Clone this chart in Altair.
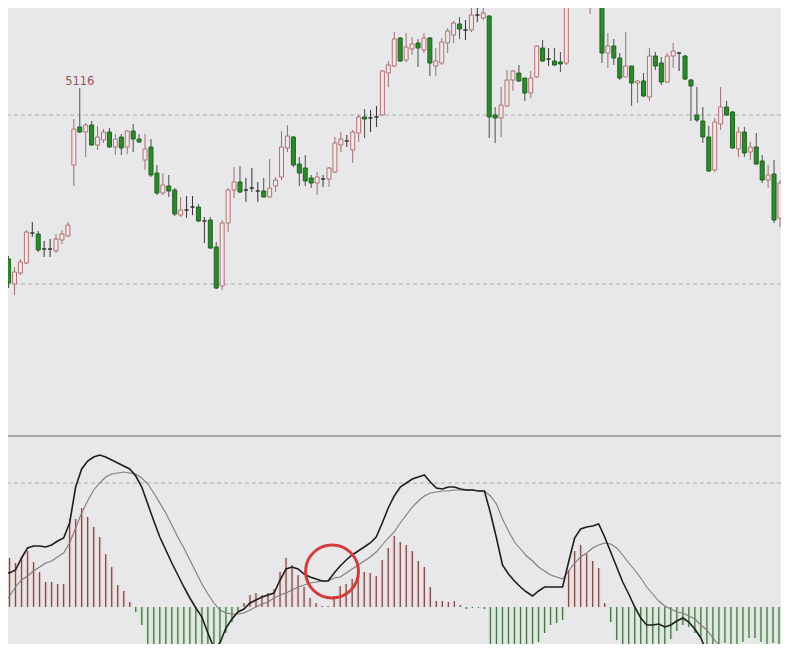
import altair as alt
import pandas as pd

# ---- price candles (one per session) ----
opens = [4945, 4920, 4931, 4941, 4971, 4970, 4955, 4955, 4953, 4964,
         4968, 5039, 5077, 5072, 5079, 5059, 5064, 5072, 5057, 5067,
         5057, 5073, 5065, 5044, 5057, 5031, 5011, 5018, 5014, 4989,
         4994, 4997, 4997, 4983, 4984, 4957, 4918, 4981, 5014, 5022,
         5014, 5016, 5013, 5013, 5007, 5018, 5027, 5056, 5067, 5040,
         5036, 5026, 5021, 5025, 5025, 5032, 5059, 5063, 5054, 5071,
         5087, 5086, 5087, 5089, 5131, 5138, 5166, 5144, 5155, 5161,
         5154, 5166, 5138, 5141, 5161, 5169, 5180, 5174, 5174, 5189,
         5186, 5188, 5089, 5086, 5098, 5124, 5131, 5126, 5111, 5127,
         5156, 5145, 5143, 5142, 5141, 5224, 5239, 5209, 5201, 5206,
         5206, 5151, 5158, 5146, 5127, 5138, 5121, 5123, 5107, 5148,
         5141, 5122, 5148, 5151, 5148, 5124, 5089, 5083, 5067, 5034,
         5080, 5097, 5092, 5055, 5072, 5052, 5057, 5043, 5024, 5030,
         4986]
closes = [4921, 4932, 4942, 4972, 4971, 4954, 4955, 4955, 4965, 4970,
          4979, 5075, 5072, 5079, 5059, 5067, 5072, 5057, 5065, 5056,
          5073, 5065, 5062, 5055, 5029, 5011, 5019, 5013, 4990, 4994,
          4994, 4997, 4983, 4983, 4956, 4916, 4981, 5014, 5022, 5012,
          5014, 5016, 5013, 5007, 5016, 5024, 5057, 5068, 5039, 5031,
          5023, 5021, 5027, 5025, 5036, 5061, 5065, 5063, 5072, 5087,
          5085, 5086, 5087, 5133, 5139, 5165, 5143, 5157, 5160, 5156,
          5166, 5141, 5143, 5162, 5173, 5181, 5175, 5174, 5189, 5189,
          5191, 5087, 5086, 5099, 5124, 5133, 5123, 5111, 5126, 5158,
          5143, 5145, 5139, 5140, 5224, 5239, 5229, 5207, 5206, 5203,
          5151, 5158, 5146, 5126, 5138, 5121, 5123, 5108, 5148, 5138,
          5122, 5148, 5153, 5151, 5125, 5118, 5084, 5067, 5033, 5082,
          5097, 5089, 5056, 5072, 5051, 5057, 5040, 5024, 5029, 4984,
          5021]
highs = [4948, 4937, 4945, 4974, 4982, 4973, 4963, 4965, 4970, 4974,
         4982, 5085, 5116, 5081, 5083, 5078, 5075, 5076, 5070, 5070,
         5074, 5080, 5070, 5070, 5065, 5039, 5031, 5029, 5016, 5007,
         5008, 5008, 5000, 4987, 4987, 4962, 4984, 5016, 5037, 5038,
         5026, 5036, 5022, 5026, 5045, 5027, 5073, 5079, 5068, 5047,
         5049, 5029, 5032, 5029, 5037, 5067, 5072, 5069, 5074, 5089,
         5095, 5094, 5098, 5134, 5143, 5172, 5167, 5171, 5167, 5165,
         5171, 5167, 5156, 5166, 5176, 5183, 5187, 5184, 5199, 5199,
         5200, 5189, 5097, 5117, 5134, 5134, 5139, 5126, 5133, 5159,
         5164, 5156, 5156, 5152, 5232, 5249, 5249, 5219, 5216, 5212,
         5212, 5171, 5165, 5151, 5172, 5138, 5124, 5131, 5156, 5152,
         5147, 5151, 5161, 5152, 5149, 5125, 5117, 5097, 5078, 5086,
         5117, 5103, 5093, 5077, 5077, 5062, 5071, 5049, 5039, 5044,
         5024]
lows = [4916, 4909, 4929, 4940, 4967, 4952, 4947, 4947, 4951, 4960,
        4967, 5018, 5071, 5047, 5058, 5054, 5061, 5056, 5049, 5049,
        5050, 5052, 5061, 5034, 5027, 5009, 5009, 5007, 4988, 4987,
        4986, 4989, 4982, 4961, 4955, 4915, 4914, 4972, 5006, 5011,
        5002, 5012, 5002, 5007, 5006, 5012, 5024, 5052, 5037, 5018,
        5018, 5016, 5009, 5017, 5017, 5031, 5052, 5057, 5041, 5062,
        5066, 5072, 5077, 5088, 5117, 5137, 5142, 5142, 5149, 5137,
        5151, 5128, 5128, 5139, 5151, 5161, 5165, 5164, 5172, 5182,
        5184, 5066, 5061, 5067, 5097, 5113, 5122, 5103, 5106, 5126,
        5142, 5138, 5138, 5132, 5139, 5214, 5216, 5197, 5190, 5200,
        5141, 5136, 5139, 5124, 5127, 5098, 5101, 5107, 5103, 5134,
        5119, 5121, 5136, 5133, 5124, 5083, 5082, 5061, 5032, 5032,
        5074, 5088, 5055, 5047, 5047, 5044, 5039, 5021, 5016, 4981,
        4977]

# ---- MACD indicator ----
dif = [35, 34, 37, 49, 59, 61, 61, 60, 62, 66,
       69, 84, 120, 138, 146, 150, 152, 150, 147, 144,
       141, 138, 131, 120, 103, 86, 70, 57, 44, 32,
       20, 9, -1, -10, -26, -41, -36, -21, -12, -5,
       -2, 4, 7, 10, 12, 14, 27, 38, 40, 38,
       33, 30, 28, 26, 26, 34, 41, 47, 52, 56,
       60, 64, 70, 84, 99, 111, 120, 124, 128, 130,
       132, 125, 119, 118, 120, 120, 118, 117, 117, 116,
       116, 94, 69, 42, 33, 26, 20, 15, 11, 16,
       20, 20, 20, 20, 45, 69, 78, 80, 81, 83,
       70, 55, 40, 25, 13, 0, -11, -18, -18, -17,
       -20, -18, -14, -11, -15, -22, -31, -45, -55, -60,
       -63, -66, -68, -70, -72, -73, -75, -77, -78, -80,
       -82]
dea = [4, 11, 20, 27, 31, 36, 40, 44, 46, 50,
       54, 64, 79, 94, 106, 117, 124, 130, 133, 134,
       135, 134, 133, 129, 123, 114, 104, 94, 82, 70,
       59, 47, 35, 23, 13, 4, -3, -6, -7, -7,
       -6, -3, 0, 3, 5, 9, 12, 14, 17, 20,
       22, 24, 25, 26, 26, 29, 30, 34, 38, 42,
       46, 50, 55, 62, 69, 75, 84, 92, 100, 106,
       111, 114, 115, 116, 116, 117, 117, 117, 117, 116,
       116, 111, 103, 88, 76, 65, 58, 51, 46, 40,
       36, 32, 30, 28, 36, 44, 50, 54, 59, 62,
       64, 63, 59, 52, 44, 37, 29, 20, 13, 6,
       1, -2, -5, -6, -9, -12, -18, -23, -31, -38,
       -46, -50, -54, -58, -61, -64, -67, -70, -72, -74,
       -76]
macd_hist = [60, 49, 44, 50, 56, 45, 35, 25, 25, 23,
             23, 88, 88, 99, 90, 80, 70, 53, 40, 22,
             16, 5, -5, -18, -38, -50, -58, -64, -68, -70,
             -72, -72, -70, -64, -56, -48, -36, -26, -15, -5,
             4, 12, 14, 12, 14, 18, 35, 49, 42, 32,
             20, 9, 4, 1, 1, 11, 21, 23, 28, 30,
             35, 34, 31, 47, 59, 71, 65, 62, 56, 46,
             40, 20, 6, 6, 5, 6, 2, -2, -1, -1,
             -2, -48, -68, -90, -88, -76, -70, -62, -55, -35,
             -26, -18, -16, -13, 37, 56, 62, 53, 46, 39,
             4, -15, -33, -54, -62, -72, -78, -74, -62, -48,
             -42, -32, -24, -18, -20, -26, -30, -44, -48, -40,
             -36, -42, -40, -35, -31, -31, -35, -38, -36, -40,
             -45]

grid_prices = [5089, 4920]
grid_macd = [124]
separator_level = [171]
peak_label = "5116"
peak_index = 12
peak_price = 5119
circle_index = [54.65]
circle_value = [35.5]

n = len(opens)
idx = list(range(n))
dirs = ["up" if c > o else ("down" if c < o else "doji") for o, c in zip(opens, closes)]
candles = pd.DataFrame({"i": idx, "open": opens, "high": highs, "low": lows,
                        "close": closes, "dir": dirs})
signs = ["pos" if h >= 0 else "neg" for h in macd_hist]
macd = pd.DataFrame({"i": idx, "dif": dif, "dea": dea, "hist": macd_hist,
                     "zero": [0] * n, "sign": signs})

W = 773
H_TOP = 427
H_BOT = 209

xscale = alt.Scale(domain=[0.7486, 129.33], nice=False, zero=False)
X = alt.X("i:Q", scale=xscale, axis=None)
pscale = alt.Scale(domain=[4769, 5196], nice=False, zero=False)
mscale = alt.Scale(domain=[-37, 172], nice=False, zero=False)

dir_dom = ["up", "down", "doji"]

cbase = alt.Chart(candles)

grid_top = alt.Chart(pd.DataFrame({"p": grid_prices})).mark_rule(
    strokeDash=[4, 3], color="#acacac", strokeWidth=1, clip=True
).encode(y=alt.Y("p:Q", scale=pscale, axis=None))

wicks = cbase.mark_rule(strokeWidth=1, clip=True).encode(
    x=X,
    y=alt.Y("low:Q", scale=pscale, axis=None),
    y2="high:Q",
    color=alt.Color("dir:N", scale=alt.Scale(domain=dir_dom,
                    range=["#9a7070", "#4a4f4a", "#333333"]), legend=None),
)

bodies = cbase.mark_bar(size=4, strokeWidth=1, clip=True).encode(
    x=X,
    y=alt.Y("open:Q", scale=pscale, axis=None),
    y2="close:Q",
    fill=alt.Fill("dir:N", scale=alt.Scale(domain=dir_dom,
                  range=["#f2e7e7", "#2b8a2b", "#333333"]), legend=None),
    stroke=alt.Stroke("dir:N", scale=alt.Scale(domain=dir_dom,
                      range=["#b07272", "#1f621f", "#333333"]), legend=None),
)

label = alt.Chart(pd.DataFrame({"i": [peak_index], "p": [peak_price], "t": [peak_label]})).mark_text(
    font="DejaVu Sans", fontSize=11.5, color="#9c5454", baseline="alphabetic",
    align="center", clip=True
).encode(x=X, y=alt.Y("p:Q", scale=pscale, axis=None), text="t:N")

top = alt.layer(grid_top, wicks, bodies, label).properties(width=W, height=H_TOP)

mbase = alt.Chart(macd)

grid_bot = alt.Chart(pd.DataFrame({"v": grid_macd})).mark_rule(
    strokeDash=[4, 3], color="#acacac", strokeWidth=1, clip=True
).encode(y=alt.Y("v:Q", scale=mscale, axis=None))

sep = alt.Chart(pd.DataFrame({"v": separator_level})).mark_rule(
    color="#8e8e8e", strokeWidth=1.5, clip=True
).encode(y=alt.Y("v:Q", scale=mscale, axis=None))

glow = mbase.mark_rule(strokeWidth=4.5, clip=True).encode(
    x=X,
    y=alt.Y("hist:Q", scale=mscale, axis=None),
    y2="zero:Q",
    stroke=alt.Stroke("sign:N", scale=alt.Scale(domain=["pos", "neg"],
                      range=["#efd9d9", "#d5e9d5"]), legend=None),
)
bars = mbase.mark_rule(strokeWidth=1.3, clip=True).encode(
    x=X,
    y=alt.Y("hist:Q", scale=mscale, axis=None),
    y2="zero:Q",
    color=alt.Color("sign:N", scale=alt.Scale(domain=["pos", "neg"],
                    range=["#765050", "#4b6e4b"]), legend=None),
)
dea_line = mbase.mark_line(color="#7c7c7c", strokeWidth=1.1, clip=True).encode(
    x=X, y=alt.Y("dea:Q", scale=mscale, axis=None))
dif_line = mbase.mark_line(color="#1e1e1e", strokeWidth=1.6, clip=True).encode(
    x=X, y=alt.Y("dif:Q", scale=mscale, axis=None))

circle = alt.Chart(pd.DataFrame({"i": circle_index, "v": circle_value})).mark_point(
    shape="circle", filled=False, size=2800, color="#d23c3c", strokeWidth=3,
    opacity=1, clip=True
).encode(x=X, y=alt.Y("v:Q", scale=mscale, axis=None))

bottom = alt.layer(sep, grid_bot, glow, bars, dea_line, dif_line, circle).resolve_scale(
    color="independent", stroke="independent"
).properties(width=W, height=H_BOT)

chart = alt.vconcat(top, bottom, spacing=0).properties(
    padding=0, background="#e8e8ea"
).configure_view(strokeWidth=0)

chart.save("out.html", embed_options={"renderer": "svg", "actions": False})
